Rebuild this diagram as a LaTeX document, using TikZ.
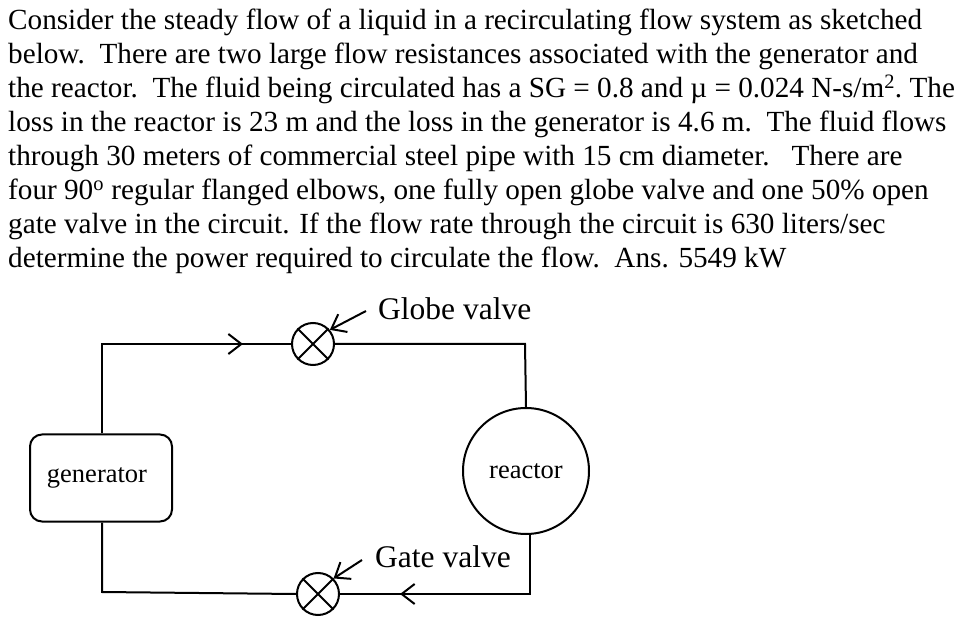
\documentclass[tikz,border=0pt]{standalone}
\usepackage{fontspec}
\setmainfont{Liberation Serif}
\usetikzlibrary{arrows.meta}
\tikzset{
    txt/.style={anchor=base west, inner sep=0pt, font=\fontsize{29.2}{34}\selectfont},
    lbl/.style={anchor=base west, inner sep=0pt, font=\fontsize{31.5}{36}\selectfont},
    pipe/.style={line width=2pt},
    valve/.style={circle, draw, line width=2pt, minimum size=42pt, inner sep=0pt},
    tip/.style={-{Straight Barb[length=13pt,width=20pt,line width=2pt]}},
}
\begin{document}
\begin{tikzpicture}[x=1pt,y=-1pt]
    \useasboundingbox (0,0) rectangle (970,620);
    
        %Problem text
        \node[txt] (l1) at (8,30) {Consider the steady flow of a liquid in a recirculating flow system as sketched};
        \node[txt] (l2) at (8,64) {below.\ \ There are two large flow resistances associated with the generator and};
        \node[txt] (l3) at (8,98) {the reactor.\ \ The fluid being circulated has a SG = 0.8 and \textmu{} = 0.024 N-s/m\textsuperscript{2}.\ The};
        \node[txt] (l4) at (8,132) {loss in the reactor is 23 m and the loss in the generator is 4.6 m.\ \ The fluid flows};
        \node[txt] (l5) at (8,166) {through 30 meters of commercial steel pipe with 15 cm diameter.\ \ \ There are};
        \node[txt] (l6) at (8,200) {four 90\textsuperscript{o} regular flanged elbows, one fully open globe valve and one 50\% open};
        \node[txt] (l7) at (8,234) {gate valve in the circuit. If the flow rate through the circuit is 630 liters/sec};
        \node[txt] (l8) at (8,268) {determine the power required to circulate the flow.\ \ Ans. 5549 kW};
        
        %Components
        \node[draw, line width=2pt, rounded corners=12pt, minimum width=142pt, minimum height=87pt,
              font=\fontsize{26.5}{30}\selectfont] (gen) at (101,478) {\hspace*{-8pt}\raisebox{-8pt}{generator}};
        \node[circle, draw, line width=2pt, minimum size=126pt, inner sep=0pt,
              font=\fontsize{26.5}{30}\selectfont] (reac) at (526,471) {\raisebox{-2pt}{reactor}};
        \node[valve] (globe) at (313,344) {};
        \node[valve] (gate) at (318,594) {};
        \draw[pipe] (globe.north east) -- (globe.south west) (globe.north west) -- (globe.south east);
        \draw[pipe] (gate.north east) -- (gate.south west) (gate.north west) -- (gate.south east);
        
        %Pipes
        \coordinate (tl) at (102,344);
        \coordinate (tr) at (525,344);
        \coordinate (bl) at (102,592);
        \coordinate (br) at (530,594);
        \coordinate (fwd) at (243,344);
        \coordinate (back) at (400,594);
        \draw[pipe] (gen.north -| tl) -- (tl) -- (globe.west);
        \draw[pipe, tip] (tl) -- (fwd);
        \draw[pipe] (globe.east) -- (tr) -- (reac.north);
        \draw[pipe] (reac.south -| br) -- (br) -- (gate.east);
        \draw[pipe, tip] (br) -- (back);
        \draw[pipe] (gate.west) -- (bl) -- (gen.south -| bl);
        
        %Labels
        \node[lbl] (globelbl) at (378,320) {Globe valve};
        \node[lbl] (gatelbl) at (375,567) {Gate valve};
        \draw[pipe, tip] (366,311) -- (globe.40);
        \draw[pipe, tip] (362,560) -- (gate.45);
        
    \end{tikzpicture}
\end{document}
